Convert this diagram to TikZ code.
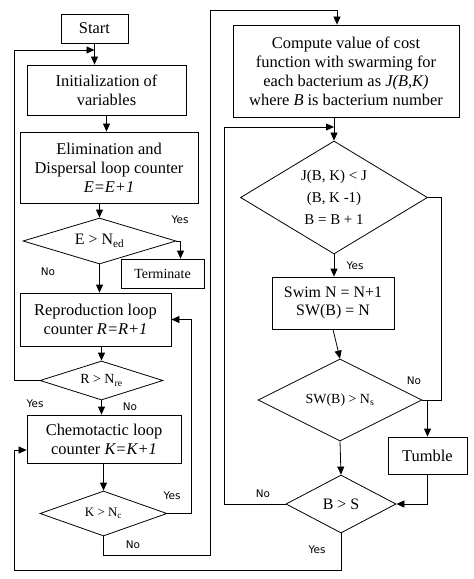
\documentclass[tikz,border=0pt]{standalone}
\usepackage{fontspec}
\setmainfont{Liberation Serif}
\newfontfamily\yesnofont{DejaVu Sans}
\usetikzlibrary{shapes.geometric,arrows.meta}

\begin{document}
\begin{tikzpicture}[x=1bp,y=-1bp,line width=0.8bp]
		\tikzset{box/.style={draw,rectangle,align=center,inner sep=0pt,font=\fontsize{16.5}{19}\selectfont}, %process boxes
			dec/.style={draw,diamond,align=center,inner sep=0pt,font=\fontsize{15}{22}\selectfont}, %decisions
			arr/.style={-{Triangle[length=8bp,width=7bp]}},
			yn/.style={inner sep=0pt,font=\yesnofont\fontsize{10.5}{12}\selectfont}}
		\useasboundingbox (0,0) rectangle (474,579);
		\node[box,minimum width=67bp,minimum height=29bp] (start) at (94.5,28.5) {Start}; %left column
		\node[box,minimum width=159bp,minimum height=50bp] (init) at (106.5,90) {Initialization of\\variables};
		\node[box,minimum width=178bp,minimum height=71bp] (elim) at (109,167.5) {Elimination and\\Dispersal loop counter\\\textit{E=E+1}};
		\node[dec,minimum width=153bp,minimum height=46bp,aspect=3.3,font=\fontsize{16}{19}\selectfont] (edec) at (99.5,241) {E > N\textsubscript{ed}};
		\node[box,minimum width=83bp,minimum height=29bp,font=\fontsize{14}{17}\selectfont] (term) at (162.5,273.5) {Terminate};
		\node[box,minimum width=151bp,minimum height=53bp] (repro) at (95.5,319.5) {Reproduction loop\\counter \textit{R=R+1}};
		\node[dec,minimum width=123bp,minimum height=39bp,aspect=3.15,font=\fontsize{14}{17}\selectfont] (rdec) at (101.5,380.5) {R > N\textsubscript{re}};
		\node[box,minimum width=154bp,minimum height=48bp] (chemo) at (104,439) {Chemotactic loop\\counter \textit{K=K+1}};
		\node[dec,minimum width=127bp,minimum height=45bp,aspect=2.8,font=\fontsize{13}{16}\selectfont] (kdec) at (103.5,513.5) {K > N\textsubscript{c}};
		\node[box,minimum width=226bp,minimum height=92bp] (compute) at (346,71) {Compute value of cost\\function with swarming for\\each bacterium as \textit{J(B,K)}\\where \textit{B} is bacterium number}; %right column
		\node[dec,minimum width=187bp,minimum height=113bp,aspect=1.65] (jdec) at (334,197.5) {J(B, K) < J\\(B, K -1)\\B = B + 1};
		\node[box,minimum width=122bp,minimum height=52bp,font=\fontsize{16}{18}\selectfont] (swim) at (333,303) {Swim N = N+1\\SW(B) = N};
		\node[dec,minimum width=164bp,minimum height=82bp,aspect=2,font=\fontsize{14}{17}\selectfont] (swdec) at (340,400) {SW(B) > N\textsubscript{s}};
		\node[box,minimum width=79bp,minimum height=37bp] (tumble) at (427.5,455.5) {Tumble};
		\node[dec,minimum width=110bp,minimum height=58bp,aspect=1.9,font=\fontsize{16}{19}\selectfont] (bsdec) at (341,504) {B > S};
		\coordinate (loopA) at (14,50); %corners of the loops
		\coordinate (kyes) at (191,319.5);
		\coordinate (kno) at (210,555);
		\coordinate (topA) at (337,10);
		\coordinate (bloop) at (224,127);
		\coordinate (jno) at (441,400);
		\coordinate (cbot) at (14,570);
		\draw[arr] (start.south) -- (start.south |- init.north); %flow
		\draw[arr] (init.south) -- (init.south |- elim.north);
		\draw[arr] (edec.north |- elim.south) -- (edec.north);
		\draw[arr] (edec.east) -| ([xshift=18bp]term.north);
		\draw[arr] (edec.south) -- (edec.south |- repro.north);
		\draw[arr] (rdec.north |- repro.south) -- (rdec.north);
		\draw[arr] (rdec.west) -| (loopA) -- (start.south |- loopA);
		\draw[arr] (rdec.south) -- (rdec.south |- chemo.north);
		\draw[arr] (kdec.north |- chemo.south) -- (kdec.north);
		\draw[arr] (kdec.east) -| (kyes) -- (repro.east);
		\draw[arr] (kdec.south) |- (kno) |- (topA) -- (topA |- compute.north);
		\draw[arr] (jdec.north |- compute.south) -- (jdec.north);
		\draw[arr] (bsdec.west) -| (bloop) -- (jdec.north |- bloop);
		\draw[arr] (jdec.south) -- (jdec.south |- swim.north);
		\draw (jdec.east) -| (jno) -- (swdec.east);
		\draw[arr] (swdec.east) -| (tumble.north);
		\draw[arr] (swim.south) -- (swdec.north);
		\draw[arr] (swdec.south) -- (bsdec.north);
		\draw[arr] (tumble.south) |- (bsdec.east);
		\draw[arr] (bsdec.south) |- (cbot) |- ([yshift=-11bp]chemo.west);
		\foreach \lbl/\px/\py [count=\i] in {Yes/180/220,No/48/272,Yes/35/404,No/130/407,Yes/172/496,No/133/545,Yes/355/266,No/414/381,No/263/494,Yes/317/550} %branch labels
			\node[yn] (yn\i) at (\px,\py) {\lbl};
	\end{tikzpicture}
\end{document}
